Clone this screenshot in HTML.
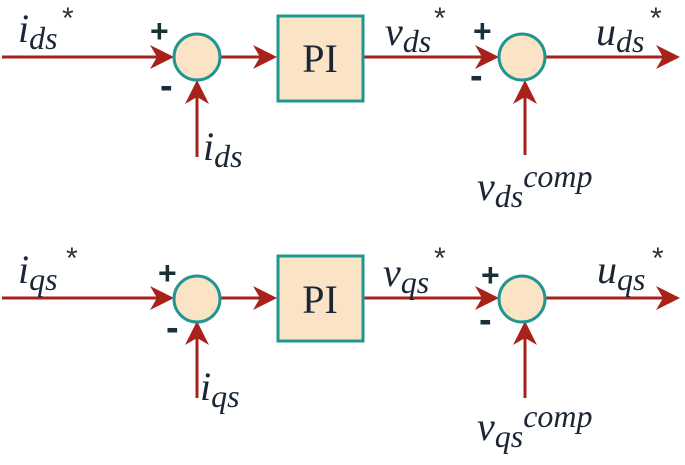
<!DOCTYPE html>
<html><head><meta charset="utf-8"><style>
html,body{margin:0;padding:0;background:#fff;width:685px;height:465px;overflow:hidden}
text{font-family:"Liberation Serif","DejaVu Serif",serif;font-style:italic;fill:#1a2636}
.s{font-family:"Liberation Sans",sans-serif;font-style:normal;font-weight:bold;fill:#1a2f3a}
.st{font-family:"Liberation Sans",sans-serif;font-style:normal;fill:#333}
</style></head><body>
<svg width="685" height="465" xmlns="http://www.w3.org/2000/svg">
<g stroke="#a8221c" stroke-width="3" fill="none">
<line x1="2" y1="57" x2="160" y2="57"/>
<line x1="220" y1="57" x2="265" y2="57"/>
<line x1="363" y1="57" x2="487" y2="57"/>
<line x1="545" y1="57" x2="666" y2="57"/>
<line x1="197" y1="157" x2="197" y2="92"/>
<line x1="525" y1="155" x2="525" y2="92"/>
<line x1="2" y1="298" x2="160" y2="298"/>
<line x1="220" y1="298" x2="265" y2="298"/>
<line x1="363" y1="298" x2="487" y2="298"/>
<line x1="545" y1="298" x2="666" y2="298"/>
<line x1="197" y1="398" x2="197" y2="333"/>
<line x1="525" y1="398" x2="525" y2="333"/>
</g>
<g fill="#a8221c">
<path d="M174,57 L150,45 L157,57 L150,69Z"/>
<path d="M277,57 L253,45 L260,57 L253,69Z"/>
<path d="M499,57 L475,45 L482,57 L475,69Z"/>
<path d="M680,57 L656,45 L663,57 L656,69Z"/>
<path d="M197,80 L185,104 L197,97 L209,104Z"/>
<path d="M525,80 L513,104 L525,97 L537,104Z"/>
<path d="M174,298 L150,286 L157,298 L150,310Z"/>
<path d="M277,298 L253,286 L260,298 L253,310Z"/>
<path d="M499,298 L475,286 L482,298 L475,310Z"/>
<path d="M680,298 L656,286 L663,298 L656,310Z"/>
<path d="M197,321 L185,345 L197,338 L209,345Z"/>
<path d="M525,321 L513,345 L525,338 L537,345Z"/>
</g>
<g fill="#fbe3c6" stroke="#1f9690" stroke-width="3">
<circle cx="197" cy="57" r="23"/>
<circle cx="522" cy="57" r="23"/>
<circle cx="197" cy="299" r="23"/>
<circle cx="522" cy="299" r="23"/>
<rect x="278" y="16" width="85" height="85"/>
<rect x="278" y="256" width="85" height="85"/>
</g>
<text x="320" y="72" text-anchor="middle" style="font-style:normal" font-size="40">PI</text>
<text x="320" y="313" text-anchor="middle" style="font-style:normal" font-size="40">PI</text>
<text x="18" y="42" font-size="40">i<tspan font-size="32" dy="7">ds</tspan></text>
<text class="st" x="62" y="28" font-size="30">*</text>
<text class="s" x="150" y="42" font-size="32">+</text>
<text class="s" x="160" y="98" font-size="38">-</text>
<text x="203" y="160" font-size="40">i<tspan font-size="32" dy="7">ds</tspan></text>
<text x="385" y="45" font-size="40">v<tspan font-size="32" dy="7">ds</tspan></text>
<text class="st" x="434" y="28" font-size="30">*</text>
<text class="s" x="473" y="42" font-size="32">+</text>
<text class="s" x="470" y="88" font-size="38">-</text>
<text x="596" y="45" font-size="40">u<tspan font-size="32" dy="7">ds</tspan></text>
<text class="st" x="650" y="28" font-size="30">*</text>
<text x="477" y="200" font-size="40">v<tspan font-size="32" dy="7">ds</tspan><tspan font-size="32" dy="-20">comp</tspan></text>
<text x="18" y="283" font-size="40">i<tspan font-size="32" dy="7">qs</tspan></text>
<text class="st" x="66" y="268" font-size="30">*</text>
<text class="s" x="158" y="284" font-size="32">+</text>
<text class="s" x="166" y="340" font-size="38">-</text>
<text x="200" y="400" font-size="40">i<tspan font-size="32" dy="7">qs</tspan></text>
<text x="383" y="286" font-size="40">v<tspan font-size="32" dy="7">qs</tspan></text>
<text class="st" x="434" y="268" font-size="30">*</text>
<text class="s" x="481" y="286" font-size="32">+</text>
<text class="s" x="479" y="332" font-size="38">-</text>
<text x="597" y="283" font-size="40">u<tspan font-size="32" dy="7">qs</tspan></text>
<text class="st" x="652" y="268" font-size="30">*</text>
<text x="477" y="440" font-size="40">v<tspan font-size="32" dy="7">qs</tspan><tspan font-size="32" dy="-20">comp</tspan></text>
</svg>
</body></html>
